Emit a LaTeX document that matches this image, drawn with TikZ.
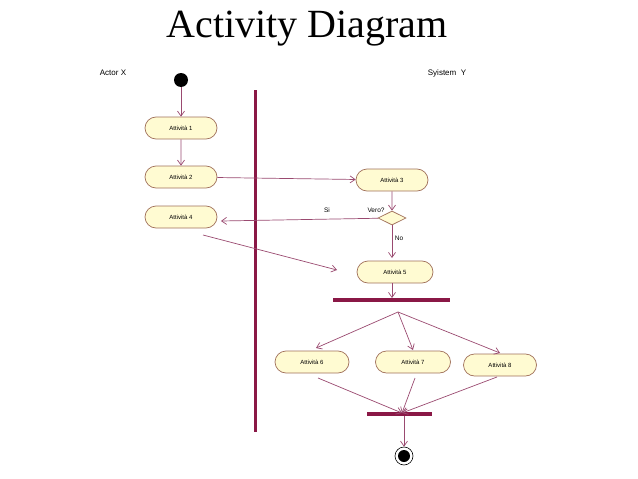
\documentclass[tikz,border=0pt]{standalone}
\usepackage{fontspec}
\setmainfont{Liberation Sans}
\newfontfamily\titlefont{Liberation Serif}
\usetikzlibrary{shapes.geometric,shapes.misc,arrows.meta}
\definecolor{bar}{HTML}{8A1846}
\definecolor{edge}{HTML}{9A4A70}
\definecolor{pill}{HTML}{FFFBD2}
\definecolor{pillb}{HTML}{A0705A}
\begin{document}
\begin{tikzpicture}[x=1pt,y=-1pt,
  act/.style={rounded rectangle,draw=pillb,fill=pill,line width=0.7pt,minimum width=72pt,minimum height=22pt,font=\fontsize{6}{7}\selectfont,inner sep=0pt},
  arr/.style={draw=edge,line width=0.7pt,-{Straight Barb[length=5pt,width=7pt]}},
  lab/.style={font=\fontsize{6.5}{7}\selectfont,inner sep=0pt},
  barl/.style={draw=bar,line width=4pt}]
\useasboundingbox (0,0) rectangle (638,479);
\node[font=\titlefont\fontsize{40}{44}\selectfont] (title) at (307,29) {Activity Diagram};
\node[lab,font=\fontsize{8}{9}\selectfont] (ax) at (113,73) {Actor X};
\node[lab,font=\fontsize{8}{9}\selectfont] (sy) at (447,73) {Syistem\ \ Y};
\draw[draw=bar,line width=3pt] (255,90) -- (255,432);
\node[circle,fill=black,minimum size=14pt,inner sep=0pt] (start) at (181,80) {};
\node[act] (a1) at (181,128) {Attività 1};
\node[act] (a2) at (181,177) {Attività 2};
\node[act] (a4) at (181,217) {Attività 4};
\node[act] (a3) at (392,180) {Attività 3};
\node[diamond,draw=pillb,fill=pill,line width=0.7pt,minimum width=28pt,minimum height=14pt,inner sep=0pt] (d) at (392,218) {};
\node[act,minimum width=76pt] (a5) at (395,272) {Attività 5};
\coordinate (f1) at (333,300); \coordinate (f2) at (450,300);
\draw[barl] (f1) -- (f2);
\node[act,minimum width=74pt] (a6) at (312,362) {Attività 6};
\node[act,minimum width=75pt] (a7) at (413,362) {Attività 7};
\node[act,minimum width=73pt] (a8) at (500,365) {Attività 8};
\coordinate (j1) at (367,414); \coordinate (j2) at (432,414);
\draw[barl] (j1) -- (j2);
\node[circle,draw=black,fill=white,line width=0.6pt,minimum size=18pt,inner sep=0pt] (end) at (404,456) {};
\node[circle,fill=black,minimum size=12pt,inner sep=0pt] (endi) at (404,456) {};
\draw[arr] (start) -- (a1);
\draw[arr] (a1) -- (a2);
\draw[arr] (a2) -- (a3);
\draw[arr] (a3) -- (d);
\draw[arr] (d) -- (221,221);
\node[lab] (si) at (327,210) {Si};
\node[lab] (vero) at (376,210) {Vero?};
\draw[arr] (d) -- (392,258);
\node[lab] (no) at (399,238) {No};
\draw[arr] (203,235) -- (337,270);
\coordinate (fin) at (392,298);
\draw[arr] (392,283) -- (fin);
\coordinate (fo) at (398,312);
\draw[arr] (fo) -- (316,348);
\draw[arr] (fo) -- (413,350);
\draw[arr] (fo) -- (500,353);
\coordinate (jn) at (402,413);
\draw[arr] (318,378) -- (jn);
\draw[arr] (415,378) -- (jn);
\draw[arr] (497,377) -- (jn);
\draw[arr] (404,416) -- (end);
\end{tikzpicture}
\end{document}
